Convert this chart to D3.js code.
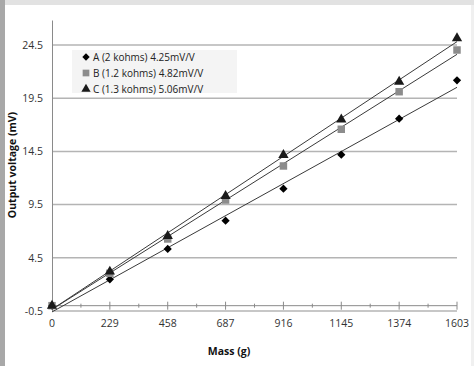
<!DOCTYPE html>
<html><head><meta charset="utf-8">
<script src="https://cdn.jsdelivr.net/npm/d3@7"></script>
<style>body{margin:0;background:#fff}svg{display:block}</style>
</head><body>
<svg id="c" width="474" height="366"></svg>
<script>
const massTicks = [0, 229, 458, 687, 916, 1145, 1374, 1603];
const voltTicks = [-0.5, 4.5, 9.5, 14.5, 19.5, 24.5];
const seriesNames = ["A (2 kohms) 4.25mV/V", "B (1.2 kohms) 4.82mV/V", "C (1.3 kohms) 5.06mV/V"];
const valuesA = [0, 2.48, 5.33, 7.99, 11.0, 14.19, 17.58, 21.18];
const valuesB = [0, 3.04, 6.27, 9.93, 13.13, 16.58, 20.11, 24.03];
const valuesC = [0, 3.20, 6.55, 10.31, 14.16, 17.50, 21.05, 25.13];

const svg = d3.select("#c");
const font = "'Open Sans', Lato, sans-serif";
// frame
svg.append("rect").attr("x",0).attr("y",0).attr("width",474).attr("height",5).attr("fill","#e2e2e2");
svg.append("rect").attr("x",0).attr("y",0).attr("width",5).attr("height",366).attr("fill","#a8a8a8");
svg.append("rect").attr("x",471).attr("y",5).attr("width",3).attr("height",361).attr("fill","#f0f0f0");

const x = d3.scaleLinear().domain([0, 1603]).range([52, 457]);
const y = d3.scaleLinear().domain([-0.5, 26.85]).range([311, 20]);

// gridlines
svg.append("g").selectAll("line").data(voltTicks).join("line")
  .attr("x1", x(0)).attr("x2", x(1603))
  .attr("y1", d => y(d)).attr("y2", d => y(d))
  .attr("stroke", "#b4b4b4").attr("stroke-width", 1.5);

// y axis
const yAxis = d3.axisLeft(y).tickValues(voltTicks).tickSize(0).tickPadding(9).tickFormat(d => d.toFixed(1));
const gy = svg.append("g").attr("transform", `translate(${x(0)},0)`).call(yAxis);
gy.select(".domain").attr("stroke", "#8a8a8a");
gy.selectAll("text").attr("font-family", font).attr("font-size", 10.5).attr("fill", "#333");

// x axis at y=0
const minor = massTicks.slice(0, -1).map((d, i) => (d + massTicks[i + 1]) / 2);
const gx = svg.append("g").attr("transform", `translate(0,${y(0)})`);
gx.append("line").attr("x1", x(0)).attr("x2", x(1603)).attr("stroke", "#8a8a8a");
gx.selectAll(".maj").data(massTicks).join("line").attr("class","maj")
  .attr("x1", d => x(d)).attr("x2", d => x(d)).attr("y1", -4).attr("y2", 4).attr("stroke", "#8a8a8a");
gx.selectAll(".min").data(minor).join("line").attr("class","min")
  .attr("x1", d => x(d)).attr("x2", d => x(d)).attr("y1", -2).attr("y2", 2).attr("stroke", "#8a8a8a");
svg.append("g").selectAll("text").data(massTicks).join("text")
  .attr("x", d => x(d)).attr("y", 327).attr("text-anchor", "middle")
  .attr("font-family", font).attr("font-size", 10.5).attr("fill", "#333").text(d => d);

// axis titles
svg.append("text").attr("x", 229).attr("y", 355).attr("text-anchor", "middle")
  .attr("font-family", font).attr("font-size", 10.5).attr("font-weight", "bold").attr("fill", "#111").text("Mass (g)");
svg.append("text").attr("transform", "translate(16,165) rotate(-90)").attr("text-anchor", "middle")
  .attr("font-family", font).attr("font-size", 10.5).attr("font-weight", "bold").attr("fill", "#111").text("Output voltage (mV)");

// series
const series = [
  {name: seriesNames[0], vals: valuesA, sym: d3.symbolSquare, size: 34, rot: 45, color: "#000"},
  {name: seriesNames[1], vals: valuesB, sym: d3.symbolSquare, size: 56, rot: 0, color: "#8c8c8c"},
  {name: seriesNames[2], vals: valuesC, sym: d3.symbolTriangle, size: 46, rot: 0, color: "#1a1a1a"}
];

// trendlines (least squares)
series.forEach(s => {
  const mx = d3.mean(massTicks), my = d3.mean(s.vals);
  let sxy = 0, sxx = 0;
  massTicks.forEach((m, i) => { sxy += (m - mx) * (s.vals[i] - my); sxx += (m - mx) ** 2; });
  const b = sxy / sxx, a = my - b * mx;
  svg.append("line").attr("x1", x(0)).attr("y1", y(a)).attr("x2", x(1603)).attr("y2", y(a + b * 1603))
    .attr("stroke", "#3a3a3a").attr("stroke-width", 1);
});

series.forEach(s => {
  svg.append("g").selectAll("path").data(s.vals).join("path")
    .attr("transform", (d, i) => `translate(${x(massTicks[i])},${y(d)}) rotate(${s.rot})`)
    .attr("d", d3.symbol(s.sym, s.size)).attr("fill", s.color);
});

// legend
const lg = svg.append("g");
lg.append("rect").attr("x", 72).attr("y", 50).attr("width", 165).attr("height", 43).attr("fill", "#f4f4f4");
series.forEach((s, i) => {
  const yy = 57 + i * 16;
  lg.append("path").attr("transform", `translate(86,${yy}) rotate(${s.rot})`).attr("d", d3.symbol(s.sym, s.size * 0.8)).attr("fill", s.color);
  lg.append("text").attr("x", 93).attr("y", yy + 4).attr("font-family", font).attr("font-size", 10)
    .attr("fill", "#222").text(s.name);
});
</script>
</body></html>
